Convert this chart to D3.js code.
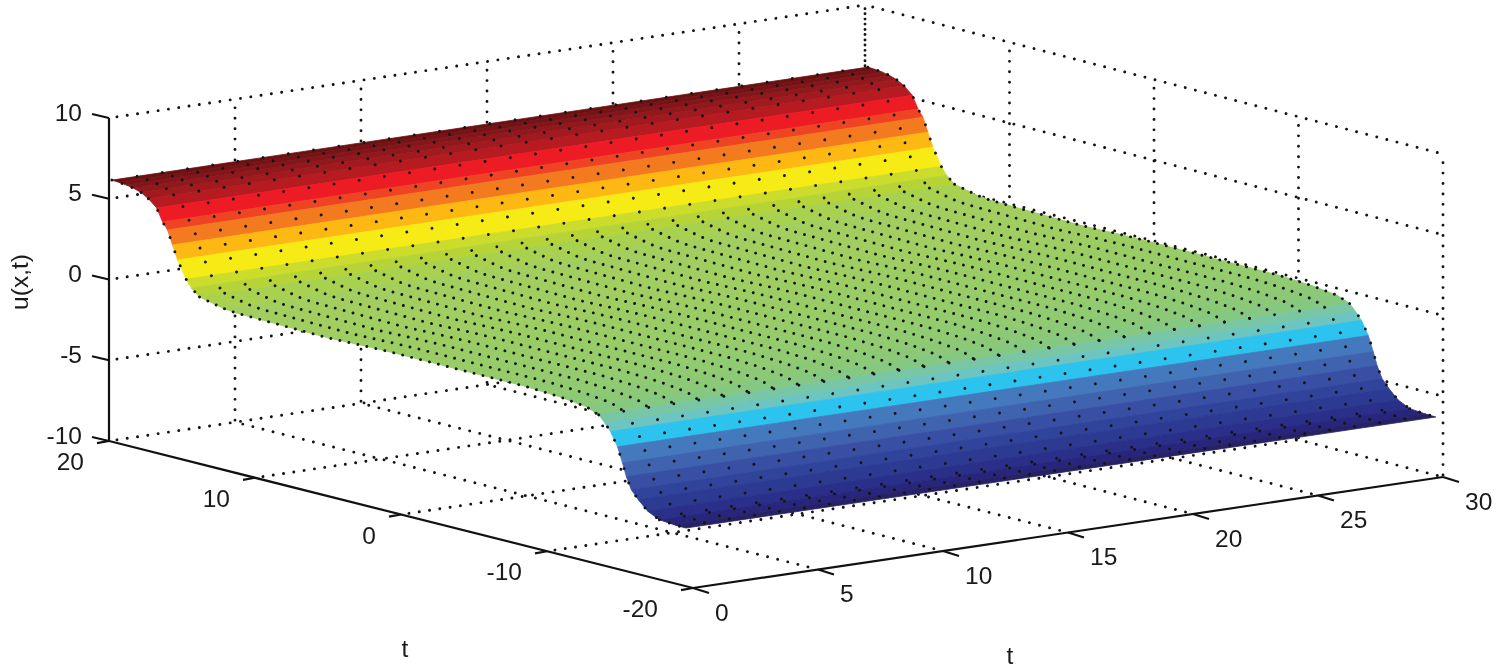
<!DOCTYPE html>
<html><head><meta charset="utf-8">
<script src="https://cdn.jsdelivr.net/npm/d3@7/dist/d3.min.js"></script>
<style>
html,body{margin:0;padding:0;background:#fff;overflow:hidden}
svg{display:block;filter:blur(0.35px)}
text{font-family:"Liberation Sans",Arial,sans-serif;font-size:24.5px;fill:#1a1a1a}
</style></head><body><svg id="c" width="1500" height="670"></svg>
<script>
// ---- data ----
const rowT = [19.8,19.3,18.8,18.3,17.8,17.3,16.73,16.33,15.99,15.65,15.3,14.72,14.35,13.8,12.2,11.3,8,5,2.4,0.4,-2,-4.1,-6.5,-8.6,-10.9,-12.7,-13.54,-13.95,-14.35,-14.83,-15.17,-15.44,-15.78,-16.26,-16.9,-17.7,-18.8,-19.5];
const rowU = [6.2,6.17,6.12,6.03,5.88,5.62,5.17,4.4,3.98,3.13,2.28,1.22,0.75,0.33,0,-0.09,-0.15,-0.2,-0.13,-0.1,-0.11,-0.12,-0.12,-0.13,-0.24,-0.44,-0.75,-1.15,-1.6,-2.43,-3.35,-4.15,-4.88,-5.39,-5.95,-6.3,-6.38,-6.4];
const rowColor = ["#6b1114","#761316","#82161a","#91181d","#a11a1f","#b51b21","#ed1c24","#ef4423","#f47a20","#fdb813","#f6eb14","#cbdc2c","#b6d437","#a8d150","#a3cf5c","#a1ce5f","#a0ce60","#9ecd61","#9ccd63","#9acc65","#98cc67","#96cb69","#93cb6d","#90ca71","#8cc977","#85c882","#78c6a3","#6cc5c0","#2cc3ef","#4479bd","#3f63af","#384fa3","#31449b","#2c3a92","#2a3089","#28267c","#262264"];
const meshX = d3.range(0, 31);
const xTicks = [0,5,10,15,20,25,30];
const tTicks = [20,10,0,-10,-20];
const zTicks = [10,5,0,-5,-10];
const axisTitles = ["u(x,t)","t","t"];

// ---- layout ----
const corner = { a:[109,441], b:[865,328], c:[693,588], d:[1443,477] }; // (0,20) (30,20) (0,-20) (30,-20)
const fx = d3.scaleLinear().domain([0,30]).range([0,1]);
const ft = d3.scaleLinear().domain([20,-20]).range([0,1]);
const fz = d3.scaleLinear().domain([-10,10]).range([0,323]);
function P(x,t,z){
  const u=fx(x), v=ft(t);
  const px=(1-u)*(1-v)*corner.a[0]+u*(1-v)*corner.b[0]+(1-u)*v*corner.c[0]+u*v*corner.d[0];
  const py=(1-u)*(1-v)*corner.a[1]+u*(1-v)*corner.b[1]+(1-u)*v*corner.c[1]+u*v*corner.d[1];
  return [px, py-fz(z)];
}
const svg=d3.select("#c");
const line=d3.line();
const DOT="0.01 10.4";
const grid=svg.append("g").attr("fill","none").attr("stroke","#141414").attr("stroke-width",2.9).attr("stroke-linecap","round").attr("stroke-dasharray",DOT);
function gl(p,q,off){grid.append("path").attr("d",line([p,q])).attr("stroke-dashoffset",off==null?-8:off);}
// walls
zTicks.forEach(z=>{
  if(z>-10){ gl(P(0,20,z),P(30,20,z)); gl(P(30,20,z),P(30,-20,z)); }
});
xTicks.slice(1).forEach(x=>gl(P(x,20,-10),P(x,20,10),-2));
gl(P(30,20,-10),P(30,20,10),-7);
tTicks.slice(1).forEach(t=>gl(P(30,t,-10),P(30,t,10),-2));
// floor
gl(P(0,20,-10),P(30,20,-10)); gl(P(30,20,-10),P(30,-20,-10));
xTicks.slice(1,-1).forEach(x=>gl(P(x,20,-10),P(x,-20,-10)));
tTicks.slice(1,-1).forEach(t=>gl(P(0,t,-10),P(30,t,-10)));

// surface facets, back to front
const facets=svg.append("g");
rowColor.forEach((col,i)=>{
  const pts=[P(0,rowT[i],rowU[i]),P(30,rowT[i],rowU[i]),P(30,rowT[i+1],rowU[i+1]),P(0,rowT[i+1],rowU[i+1])];
  facets.append("path").attr("d",line(pts)+"Z").attr("fill",col).attr("stroke",col).attr("stroke-width",0.8);
});
// dotted mesh: dot pitch differs on the plateaus and on the steep flanks
const meshSegs=[[0,5,10.6],[5,13,15],[13,26,9.2],[26,35,15],[35,37,10.5]];
const mesh=svg.append("g").attr("fill","none").attr("stroke","#141414").attr("stroke-width",2.9).attr("stroke-linecap","round");
meshX.forEach(x=>meshSegs.forEach(([a,b,pitch])=>{
  const pts=d3.range(a,b+1).map(i=>P(x,rowT[i],rowU[i]));
  mesh.append("path").attr("d",line(pts)).attr("stroke-dasharray","0.01 "+pitch);
}));

// solid axes
const ax=svg.append("g").attr("fill","none").attr("stroke","#111").attr("stroke-width",2.2);
ax.append("path").attr("d",line([P(0,20,10),P(0,20,-10),P(0,-20,-10),P(30,-20,-10)]));
const dT=[-17,-4], dX=[-12,2.2], dXtick=[16,5];
zTicks.forEach(z=>{const p=P(0,20,z);ax.append("path").attr("d",line([p,[p[0]+dT[0],p[1]+dT[1]]]));});
tTicks.forEach(t=>{const p=P(0,t,-10);ax.append("path").attr("d",line([p,[p[0]+dX[0],p[1]+dX[1]]]));});
xTicks.forEach(x=>{const p=P(x,-20,-10);ax.append("path").attr("d",line([p,[p[0]+dXtick[0],p[1]+dXtick[1]]]));});

// tick labels
function lab(x,y,s,anchor){return svg.append("text").attr("x",x).attr("y",y).attr("dy","0.35em").attr("text-anchor",anchor).text(s);}
zTicks.forEach(z=>{const p=P(0,20,z);lab(82,p[1]-6,z,"end");});
tTicks.forEach(t=>{const p=P(0,t,-10);lab(p[0]+(t===-20?-35:-25),p[1]+20.5,t,"end");});
xTicks.forEach(x=>{const p=P(x,-20,-10);lab(p[0]+22,p[1]+24,x,"start");});

// axis titles
svg.append("text").attr("transform","translate(19,282) rotate(-90)").attr("dy","0.35em").attr("text-anchor","middle").text(axisTitles[0]);
lab(405,648,axisTitles[1],"middle");
lab(1010,655,axisTitles[2],"middle");
</script></body></html>
